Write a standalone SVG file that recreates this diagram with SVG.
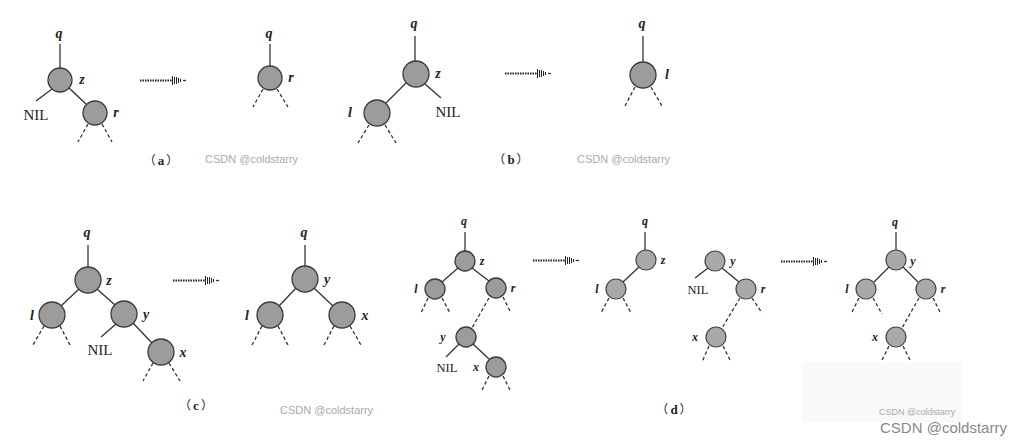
<svg xmlns="http://www.w3.org/2000/svg" xmlns:xlink="http://www.w3.org/1999/xlink" width="1024" height="444" viewBox="0 0 1024 444">
<style>
.n{fill:#9c9c9c;stroke:#3a3a3a;stroke-width:1.3}
.nl{fill:#a9a9a9;stroke:#444;stroke-width:1.2}
.e{stroke:#333;stroke-width:1.3;fill:none}
.d{stroke:#333;stroke-width:1.3;fill:none;stroke-dasharray:3.5 2.5}
.lb{font-family:"Liberation Serif",serif;font-style:italic;font-weight:bold;font-size:14px;fill:#222;text-anchor:middle}
.ls{font-family:"Liberation Serif",serif;font-style:italic;font-weight:bold;font-size:12px;fill:#222;text-anchor:middle}
.nil{font-family:"Liberation Serif",serif;font-size:15px;fill:#222;text-anchor:middle}
.nils{font-family:"Liberation Serif",serif;font-size:12.5px;fill:#222;text-anchor:middle}
.cap{font-family:"Noto Sans CJK SC",sans-serif;font-size:12px;fill:#222;text-anchor:middle}
.ser{font-family:"Liberation Serif",serif;font-weight:bold;font-size:13px}
.wm{font-family:"Liberation Sans",Arial,sans-serif;font-size:11px;fill:#aaa}
</style>
<defs>
<g id="arr">
<line x1="0" y1="0.5" x2="32" y2="0.5" stroke="#222" stroke-width="2" stroke-dasharray="1.5 1"/>
<g stroke="#222" stroke-width="1">
<line x1="32.5" y1="-4" x2="32.5" y2="5"/>
<line x1="34.5" y1="-3" x2="34.5" y2="4"/>
<line x1="36.5" y1="-3" x2="36.5" y2="4"/>
<line x1="38.5" y1="-2" x2="38.5" y2="3"/>
<line x1="40.5" y1="-1" x2="40.5" y2="2"/>
</g>
<line x1="43" y1="0.5" x2="46" y2="0.5" stroke="#333" stroke-width="1.3"/>
</g>
</defs>
<rect width="1024" height="444" fill="#fff"/>

<!-- connectors -->
<g id="connectors">
<!-- (a) -->
<line class="e" x1="60" y1="44" x2="60" y2="68"/>
<line class="e" x1="52" y1="89" x2="36" y2="101"/>
<line class="e" x1="69" y1="88" x2="86" y2="104"/>
<line class="d" x1="88" y1="124" x2="78" y2="142"/>
<line class="d" x1="102" y1="124" x2="112" y2="142"/>
<use xlink:href="#arr" href="#arr" x="140" y="80"/>
<line class="e" x1="270" y1="44" x2="270" y2="66"/>
<line class="d" x1="263" y1="89" x2="253" y2="107"/>
<line class="d" x1="277" y1="89" x2="288" y2="107"/>
<!-- (b) -->
<line class="e" x1="415" y1="36" x2="415" y2="61"/>
<line class="e" x1="406" y1="83" x2="386" y2="103"/>
<line class="e" x1="425" y1="84" x2="441" y2="98"/>
<line class="d" x1="369" y1="125" x2="358" y2="143"/>
<line class="d" x1="385" y1="125" x2="396" y2="143"/>
<use xlink:href="#arr" href="#arr" x="505" y="73"/>
<line class="e" x1="643" y1="36" x2="643" y2="62"/>
<line class="d" x1="635" y1="87" x2="625" y2="106"/>
<line class="d" x1="651" y1="87" x2="662" y2="106"/>
<!-- (c) -->
<line class="e" x1="88" y1="245" x2="88" y2="267"/>
<line class="e" x1="79" y1="289" x2="61" y2="306"/>
<line class="e" x1="97" y1="289" x2="115" y2="305"/>
<line class="e" x1="116" y1="324" x2="101" y2="337"/>
<line class="e" x1="133" y1="323" x2="152" y2="343"/>
<line class="d" x1="44" y1="326" x2="33" y2="345"/>
<line class="d" x1="60" y1="326" x2="70" y2="345"/>
<line class="d" x1="153" y1="363" x2="143" y2="381"/>
<line class="d" x1="169" y1="363" x2="180" y2="381"/>
<use xlink:href="#arr" href="#arr" x="173" y="280"/>
<line class="e" x1="305" y1="245" x2="305" y2="266"/>
<line class="e" x1="296" y1="288" x2="279" y2="306"/>
<line class="e" x1="314" y1="288" x2="333" y2="306"/>
<line class="d" x1="262" y1="326" x2="252" y2="345"/>
<line class="d" x1="278" y1="326" x2="288" y2="345"/>
<line class="d" x1="334" y1="326" x2="324" y2="345"/>
<line class="d" x1="350" y1="326" x2="361" y2="345"/>
<!-- (d) left -->
<line class="e" x1="465" y1="232" x2="465" y2="251"/>
<line class="e" x1="458" y1="268" x2="442" y2="282"/>
<line class="e" x1="472" y1="268" x2="489" y2="281"/>
<line class="d" x1="428" y1="298" x2="421" y2="313"/>
<line class="d" x1="442" y1="298" x2="450" y2="313"/>
<line class="d" x1="503" y1="297" x2="511" y2="313"/>
<line class="d" x1="489" y1="298" x2="472" y2="328"/>
<line class="e" x1="459" y1="344" x2="446" y2="357"/>
<line class="e" x1="473" y1="344" x2="489" y2="359"/>
<line class="d" x1="489" y1="376" x2="481" y2="392"/>
<line class="d" x1="503" y1="376" x2="511" y2="392"/>
<use xlink:href="#arr" href="#arr" x="533" y="260"/>
<!-- (d) middle -->
<line class="e" x1="645" y1="232" x2="645" y2="251"/>
<line class="e" x1="639" y1="267" x2="623" y2="282"/>
<line class="d" x1="609" y1="298" x2="601" y2="313"/>
<line class="d" x1="623" y1="298" x2="631" y2="313"/>
<line class="e" x1="708" y1="268" x2="695" y2="278"/>
<line class="e" x1="722" y1="268" x2="739" y2="282"/>
<line class="d" x1="752" y1="298" x2="762" y2="313"/>
<line class="d" x1="740" y1="298" x2="722" y2="328"/>
<line class="d" x1="709" y1="346" x2="702" y2="362"/>
<line class="d" x1="723" y1="346" x2="731" y2="362"/>
<use xlink:href="#arr" href="#arr" x="781" y="261"/>
<!-- (d) right -->
<line class="e" x1="896" y1="232" x2="896" y2="250"/>
<line class="e" x1="889" y1="267" x2="874" y2="282"/>
<line class="e" x1="903" y1="267" x2="918" y2="282"/>
<line class="d" x1="859" y1="298" x2="851" y2="314"/>
<line class="d" x1="873" y1="298" x2="882" y2="314"/>
<line class="d" x1="933" y1="298" x2="941" y2="314"/>
<line class="d" x1="919" y1="298" x2="902" y2="328"/>
<line class="d" x1="889" y1="346" x2="881" y2="362"/>
<line class="d" x1="903" y1="346" x2="911" y2="362"/>
</g>

<!-- (a) nodes -->
<g id="a-q1"><text class="lb" x="59" y="38">q</text></g>
<g id="a-z"><circle class="n" cx="60" cy="80" r="12"/><text class="lb" x="82" y="84">z</text></g>
<g id="a-nil"><text class="nil" x="36" y="120">NIL</text></g>
<g id="a-r"><circle class="n" cx="95" cy="113" r="12"/><text class="lb" x="116" y="117">r</text></g>
<g id="a-q2"><text class="lb" x="269" y="38">q</text></g>
<g id="a-r2"><circle class="n" cx="270" cy="78" r="12"/><text class="lb" x="291" y="82">r</text></g>
<g id="a-cap"><text class="cap" x="161" y="165">（<tspan class="ser" dx="2">a</tspan><tspan dx="2">）</tspan></text><text class="wm" x="205" y="163">CSDN @coldstarry</text></g>

<!-- (b) nodes -->
<g id="b-q1"><text class="lb" x="414" y="28">q</text></g>
<g id="b-z"><circle class="n" cx="416" cy="74" r="13"/><text class="lb" x="438" y="78">z</text></g>
<g id="b-l"><circle class="n" cx="377" cy="113" r="13"/><text class="lb" x="350" y="117">l</text></g>
<g id="b-nil"><text class="nil" x="448" y="117">NIL</text></g>
<g id="b-q2"><text class="lb" x="642" y="28">q</text></g>
<g id="b-l2"><circle class="n" cx="643" cy="75" r="13"/><text class="lb" x="667" y="79">l</text></g>
<g id="b-cap"><text class="cap" x="511" y="164">（<tspan class="ser" dx="2">b</tspan><tspan dx="2">）</tspan></text><text class="wm" x="577" y="163">CSDN @coldstarry</text></g>

<!-- (c) nodes -->
<g id="c-q1"><text class="lb" x="87" y="237">q</text></g>
<g id="c-z"><circle class="n" cx="88" cy="280" r="13"/><text class="lb" x="109" y="285">z</text></g>
<g id="c-l"><circle class="n" cx="52" cy="315" r="13"/><text class="lb" x="32" y="320">l</text></g>
<g id="c-y"><circle class="n" cx="124" cy="314" r="13"/><text class="lb" x="146" y="319">y</text></g>
<g id="c-nil"><text class="nil" x="100" y="355">NIL</text></g>
<g id="c-x"><circle class="n" cx="161" cy="352" r="13"/><text class="lb" x="183" y="357">x</text></g>
<g id="c-q2"><text class="lb" x="304" y="237">q</text></g>
<g id="c-y2"><circle class="n" cx="305" cy="279" r="13"/><text class="lb" x="327" y="284">y</text></g>
<g id="c-l2"><circle class="n" cx="270" cy="315" r="13"/><text class="lb" x="247" y="320">l</text></g>
<g id="c-x2"><circle class="n" cx="342" cy="315" r="13"/><text class="lb" x="365" y="320">x</text></g>
<g id="c-cap"><text class="cap" x="196" y="410">（<tspan class="ser" dx="2">c</tspan><tspan dx="2">）</tspan></text><text class="wm" x="280" y="414">CSDN @coldstarry</text></g>

<!-- (d) left nodes -->
<g id="d1-q"><text class="ls" x="464" y="225">q</text></g>
<g id="d1-z"><circle class="n" cx="465" cy="261" r="10"/><text class="ls" x="482" y="265">z</text></g>
<g id="d1-l"><circle class="n" cx="435" cy="289" r="10"/><text class="ls" x="416" y="293">l</text></g>
<g id="d1-r"><circle class="n" cx="496" cy="288" r="10"/><text class="ls" x="513" y="292">r</text></g>
<g id="d1-y"><circle class="n" cx="466" cy="337" r="10"/><text class="ls" x="443" y="341">y</text></g>
<g id="d1-nil"><text class="nils" x="447" y="372">NIL</text></g>
<g id="d1-x"><circle class="n" cx="496" cy="367" r="10"/><text class="ls" x="476" y="371">x</text></g>

<!-- (d) middle nodes -->
<g id="d2-q"><text class="ls" x="645" y="225">q</text></g>
<g id="d2-z"><circle class="nl" cx="646" cy="260" r="10"/><text class="ls" x="663" y="264">z</text></g>
<g id="d2-l"><circle class="nl" cx="616" cy="289" r="10"/><text class="ls" x="597" y="293">l</text></g>
<g id="d2-y"><circle class="nl" cx="715" cy="261" r="10"/><text class="ls" x="733" y="265">y</text></g>
<g id="d2-nil"><text class="nils" x="698" y="294">NIL</text></g>
<g id="d2-r"><circle class="nl" cx="746" cy="289" r="10"/><text class="ls" x="763" y="293">r</text></g>
<g id="d2-x"><circle class="nl" cx="716" cy="337" r="10"/><text class="ls" x="695" y="341">x</text></g>

<!-- (d) right nodes -->
<g id="d3-q"><text class="ls" x="895" y="226">q</text></g>
<g id="d3-y"><circle class="nl" cx="896" cy="260" r="10"/><text class="ls" x="913" y="265">y</text></g>
<g id="d3-l"><circle class="nl" cx="866" cy="289" r="10"/><text class="ls" x="847" y="293">l</text></g>
<g id="d3-r"><circle class="nl" cx="926" cy="289" r="10"/><text class="ls" x="943" y="293">r</text></g>
<g id="d3-x"><circle class="nl" cx="896" cy="337" r="10"/><text class="ls" x="875" y="341">x</text></g>

<g id="d-cap"><text class="cap" x="674" y="414">（<tspan class="ser" dx="2">d</tspan><tspan dx="2">）</tspan></text></g>
<g id="watermark">
<rect x="802" y="363" width="160" height="59" fill="#f9f9f9"/>
<text x="879" y="415" font-family="Liberation Sans,Arial,sans-serif" font-size="9" fill="#aaa">CSDN @coldstarry</text>
<text x="880" y="433" font-family="Liberation Sans,Arial,sans-serif" font-size="15" fill="#888">CSDN @coldstarry</text>
</g>
</svg>
